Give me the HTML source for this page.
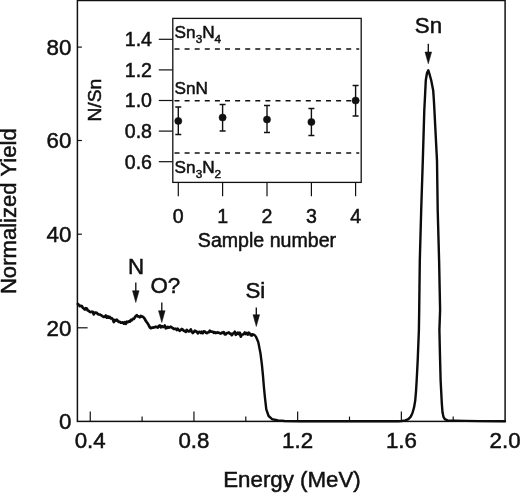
<!DOCTYPE html><html><head><meta charset="utf-8"><title>RBS spectrum</title><style>html,body{margin:0;padding:0;background:#fff}body{width:520px;height:493px;overflow:hidden}</style></head><body><svg width="520" height="493" viewBox="0 0 520 493" style="display:block">
<rect width="520" height="493" fill="#fff"/>
<g font-family="'Liberation Sans', Arial, Helvetica, sans-serif" fill="#111" stroke="#111" stroke-width="0.5">
<rect x="77.4" y="0.5" width="427.70000000000005" height="420.9" fill="none" stroke="#111" stroke-width="1.5"/>
<line x1="90.25" y1="421.4" x2="90.25" y2="411.4" stroke="#111" stroke-width="1.2"/>
<line x1="142.10" y1="421.4" x2="142.10" y2="416.59999999999997" stroke="#111" stroke-width="1.2"/>
<line x1="193.95" y1="421.4" x2="193.95" y2="411.4" stroke="#111" stroke-width="1.2"/>
<line x1="245.80" y1="421.4" x2="245.80" y2="416.59999999999997" stroke="#111" stroke-width="1.2"/>
<line x1="297.65" y1="421.4" x2="297.65" y2="411.4" stroke="#111" stroke-width="1.2"/>
<line x1="349.50" y1="421.4" x2="349.50" y2="416.59999999999997" stroke="#111" stroke-width="1.2"/>
<line x1="401.35" y1="421.4" x2="401.35" y2="411.4" stroke="#111" stroke-width="1.2"/>
<line x1="453.20" y1="421.4" x2="453.20" y2="416.59999999999997" stroke="#111" stroke-width="1.2"/>
<text x="90.2" y="448.3" font-size="22.3" text-anchor="middle">0.4</text>
<text x="193.9" y="448.3" font-size="22.3" text-anchor="middle">0.8</text>
<text x="297.6" y="448.3" font-size="22.3" text-anchor="middle">1.2</text>
<text x="401.4" y="448.3" font-size="22.3" text-anchor="middle">1.6</text>
<text x="505.1" y="448.3" font-size="22.3" text-anchor="middle">2.0</text>
<text x="71.3" y="429.1" font-size="22.3" text-anchor="end">0</text>
<line x1="77.4" y1="327.8" x2="87.60000000000001" y2="327.8" stroke="#111" stroke-width="1.2"/>
<text x="71.3" y="335.5" font-size="22.3" text-anchor="end">20</text>
<line x1="77.4" y1="234.2" x2="81.9" y2="234.2" stroke="#111" stroke-width="1.2"/>
<text x="71.3" y="241.9" font-size="22.3" text-anchor="end">40</text>
<line x1="77.4" y1="140.5" x2="81.9" y2="140.5" stroke="#111" stroke-width="1.2"/>
<text x="71.3" y="148.2" font-size="22.3" text-anchor="end">60</text>
<line x1="77.4" y1="47.1" x2="81.9" y2="47.1" stroke="#111" stroke-width="1.2"/>
<text x="71.3" y="54.8" font-size="22.3" text-anchor="end">80</text>
<text x="292" y="487.3" font-size="22.3" text-anchor="middle">Energy (MeV)</text>
<text transform="translate(16.3,211.2) rotate(-90)" font-size="22.1" text-anchor="middle">Normalized Yield</text>
<path d="M77.8,303.9 L78.8,305.0 L79.8,306.2 L80.8,305.8 L81.8,306.0 L82.8,307.7 L83.8,308.6 L84.8,309.5 L85.8,308.2 L86.8,308.6 L87.8,310.5 L88.8,310.8 L89.8,312.0 L90.8,312.1 L91.8,311.7 L92.8,311.9 L93.8,314.4 L94.8,312.7 L95.8,312.7 L96.8,312.8 L97.8,314.1 L98.8,314.5 L99.8,314.5 L100.8,315.1 L101.8,315.7 L102.8,316.4 L103.8,317.0 L104.8,316.7 L105.8,315.5 L106.8,317.7 L107.8,316.4 L108.8,317.6 L109.8,317.0 L110.8,318.4 L111.8,318.2 L112.8,319.3 L113.8,322.0 L114.8,319.9 L115.8,320.9 L116.8,319.7 L117.8,320.9 L118.8,322.0 L119.8,321.8 L120.8,322.6 L121.8,322.7 L122.8,322.3 L123.8,323.6 L124.8,322.2 L125.8,323.9 L126.8,321.7 L127.8,322.2 L128.8,321.4 L129.8,321.7 L130.8,320.0 L131.8,320.4 L132.8,318.8 L133.8,318.9 L134.8,317.4 L135.8,316.0 L136.8,315.2 L137.8,316.5 L138.8,316.4 L139.8,317.4 L140.8,315.9 L141.8,316.6 L142.8,316.6 L143.8,317.6 L144.8,319.0 L145.8,320.9 L146.8,322.3 L147.8,323.6 L148.8,325.4 L149.8,327.4 L150.8,328.2 L151.8,327.7 L152.8,327.7 L153.8,327.4 L154.8,327.2 L155.8,326.7 L156.8,327.0 L157.8,327.6 L158.8,325.9 L159.8,325.5 L160.8,327.4 L161.8,326.2 L162.8,326.9 L163.8,326.9 L164.8,325.5 L165.8,328.3 L166.8,328.0 L167.8,326.9 L168.8,327.6 L169.8,327.3 L170.8,326.7 L171.8,327.5 L172.8,328.1 L173.8,328.9 L174.8,328.9 L175.8,328.7 L176.8,330.0 L177.8,328.7 L178.8,330.2 L179.8,330.8 L180.8,330.0 L181.8,329.0 L182.8,329.7 L183.8,330.7 L184.8,331.0 L185.8,331.9 L186.8,330.0 L187.8,330.9 L188.8,331.5 L189.8,330.9 L190.8,329.4 L191.8,331.8 L192.8,333.0 L193.8,332.1 L194.8,330.7 L195.8,331.2 L196.8,331.7 L197.8,333.4 L198.8,332.1 L199.8,331.8 L200.8,332.9 L201.8,331.7 L202.8,333.2 L203.8,331.4 L204.8,331.6 L205.8,332.5 L206.8,333.1 L207.8,332.5 L208.8,332.3 L209.8,330.7 L210.8,331.6 L211.8,331.7 L212.8,331.8 L213.8,332.8 L214.8,332.2 L215.8,333.1 L216.8,332.6 L217.8,332.4 L218.8,332.8 L219.8,333.2 L220.8,333.6 L221.8,332.6 L222.8,332.9 L223.8,332.1 L224.8,334.4 L225.8,334.3 L226.8,333.1 L227.8,333.0 L228.8,332.5 L229.8,333.6 L230.8,333.6 L231.8,335.2 L232.8,333.8 L233.8,333.0 L234.8,331.8 L235.8,334.8 L236.8,333.9 L237.8,332.6 L238.8,334.0 L239.8,332.7 L240.8,336.6 L241.8,334.8 L242.8,334.5 L243.8,334.0 L244.8,332.5 L245.8,334.0 L246.8,333.0 L247.8,334.6 L248.8,332.6 L249.8,333.6 L250.8,335.2 L251.8,335.5 L252.3,334.3" fill="none" stroke="#0c0c0c" stroke-width="2.7" stroke-linejoin="round" stroke-linecap="round"/>
<path d="M252.3,334.3 L254.5,335.0 L256.0,336.7 L258.3,342.3 L260.5,353.5 L261.9,364.6 L263.0,375.8 L263.9,387.0 L265.0,398.1 L266.3,409.3 L268.6,416.0 L272.4,419.3 L278.0,420.4 L284.6,421.0 L300.0,421.2 L380.0,421.2 L398.0,421.2 L401.9,421.0 L405.4,420.4 L408.3,419.2 L410.6,416.9 L412.3,413.5 L414.0,407.7 L415.2,400.8 L416.0,391.5 L416.7,380.0 L417.7,360.4 L418.9,330.0 L419.2,310.0 L419.8,260.7 L421.2,210.0 L422.8,160.7 L424.3,110.0 L424.8,100.6 L425.3,90.4 L425.8,80.3 L427.0,73.0 L428.3,70.3 L429.8,75.2 L431.2,80.3 L433.2,90.4 L433.9,100.6 L434.4,110.0 L437.0,160.7 L437.7,210.0 L439.1,260.7 L440.1,310.0 L439.4,330.0 L440.1,360.4 L440.6,380.0 L441.2,391.5 L441.8,403.1 L442.5,412.3 L443.5,416.9 L444.8,419.2 L447.5,420.4 L455.0,420.7 L465.0,420.9 L480.0,421.1 L505.0,421.3" fill="none" stroke="#0c0c0c" stroke-width="2.4" stroke-linejoin="round" stroke-linecap="round"/>
<text x="136" y="274" font-size="22.3" text-anchor="middle">N</text>
<line x1="135.8" y1="282.5" x2="135.8" y2="292.7" stroke="#111" stroke-width="1.35"/><polygon points="132.5,290.7 139.10000000000002,290.7 135.8,302.5" fill="#111"/>
<text x="165.3" y="293" font-size="22.3" text-anchor="middle">O?</text>
<line x1="161.8" y1="302.5" x2="161.8" y2="312.7" stroke="#111" stroke-width="1.35"/><polygon points="158.5,310.7 165.10000000000002,310.7 161.8,322.5" fill="#111"/>
<text x="255.4" y="297.6" font-size="22.3" text-anchor="middle">Si</text>
<line x1="256.3" y1="307.4" x2="256.3" y2="316.7" stroke="#111" stroke-width="1.35"/><polygon points="253.0,314.7 259.6,314.7 256.3,326.5" fill="#111"/>
<text x="428.5" y="32.5" font-size="22.3" text-anchor="middle">Sn</text>
<line x1="428.3" y1="43.8" x2="428.3" y2="54.0" stroke="#111" stroke-width="1.35"/><polygon points="425.0,52.0 431.6,52.0 428.3,63.8" fill="#111"/>
<rect x="172.8" y="18.4" width="188.39999999999998" height="164.0" fill="#fff" stroke="#111" stroke-width="1.3"/>
<line x1="158.8" y1="161.7" x2="172.8" y2="161.7" stroke="#111" stroke-width="1.2"/>
<text x="152" y="168.5" font-size="19.6" text-anchor="end">0.6</text>
<line x1="158.8" y1="131.1" x2="172.8" y2="131.1" stroke="#111" stroke-width="1.2"/>
<text x="152" y="137.9" font-size="19.6" text-anchor="end">0.8</text>
<line x1="158.8" y1="100.5" x2="172.8" y2="100.5" stroke="#111" stroke-width="1.2"/>
<text x="152" y="107.3" font-size="19.6" text-anchor="end">1.0</text>
<line x1="158.8" y1="69.9" x2="172.8" y2="69.9" stroke="#111" stroke-width="1.2"/>
<text x="152" y="76.7" font-size="19.6" text-anchor="end">1.2</text>
<line x1="158.8" y1="39.3" x2="172.8" y2="39.3" stroke="#111" stroke-width="1.2"/>
<text x="152" y="46.1" font-size="19.6" text-anchor="end">1.4</text>
<line x1="174.5" y1="49.0" x2="359.2" y2="49.0" stroke="#111" stroke-width="1.5" stroke-dasharray="5 5.1"/>
<line x1="174.5" y1="100.8" x2="359.2" y2="100.8" stroke="#111" stroke-width="1.5" stroke-dasharray="5 5.1"/>
<line x1="174.5" y1="152.9" x2="359.2" y2="152.9" stroke="#111" stroke-width="1.5" stroke-dasharray="5 5.1"/>
<line x1="178.3" y1="182.4" x2="178.3" y2="196.2" stroke="#111" stroke-width="1.2"/>
<text x="178.3" y="223" font-size="19.6" text-anchor="middle">0</text>
<line x1="222.6" y1="182.4" x2="222.6" y2="196.2" stroke="#111" stroke-width="1.2"/>
<text x="222.6" y="223" font-size="19.6" text-anchor="middle">1</text>
<line x1="267.0" y1="182.4" x2="267.0" y2="196.2" stroke="#111" stroke-width="1.2"/>
<text x="267.0" y="223" font-size="19.6" text-anchor="middle">2</text>
<line x1="311.4" y1="182.4" x2="311.4" y2="196.2" stroke="#111" stroke-width="1.2"/>
<text x="311.4" y="223" font-size="19.6" text-anchor="middle">3</text>
<line x1="355.6" y1="182.4" x2="355.6" y2="196.2" stroke="#111" stroke-width="1.2"/>
<text x="355.6" y="223" font-size="19.6" text-anchor="middle">4</text>
<path d="M178.3,107 V134.5 M175.3,107 H181.3 M175.3,134.5 H181.3" stroke="#111" stroke-width="1.4" fill="none"/>
<circle cx="178.3" cy="121" r="3.6" fill="#111"/>
<path d="M222.6,104.5 V131 M219.6,104.5 H225.6 M219.6,131 H225.6" stroke="#111" stroke-width="1.4" fill="none"/>
<circle cx="222.6" cy="117.5" r="3.6" fill="#111"/>
<path d="M267.0,105.5 V132.5 M264.0,105.5 H270.0 M264.0,132.5 H270.0" stroke="#111" stroke-width="1.4" fill="none"/>
<circle cx="267.0" cy="119.5" r="3.6" fill="#111"/>
<path d="M311.4,108.5 V135.5 M308.4,108.5 H314.4 M308.4,135.5 H314.4" stroke="#111" stroke-width="1.4" fill="none"/>
<circle cx="311.4" cy="122" r="3.6" fill="#111"/>
<path d="M355.6,85.5 V116 M352.6,85.5 H358.6 M352.6,116 H358.6" stroke="#111" stroke-width="1.4" fill="none"/>
<circle cx="355.6" cy="100.5" r="3.6" fill="#111"/>
<text x="267" y="247" font-size="19.6" text-anchor="middle">Sample number</text>
<text transform="translate(100.5,100.2) rotate(-90)" font-size="19.2" text-anchor="middle">N/Sn</text>
<text x="174.6" y="37.6" font-size="17.2">Sn<tspan font-size="11.8" dy="5">3</tspan><tspan dy="-5">N</tspan><tspan font-size="11.8" dy="5">4</tspan></text>
<text x="174.6" y="93.7" font-size="17.2">SnN</text>
<text x="174.6" y="172.6" font-size="17.2">Sn<tspan font-size="11.8" dy="5">3</tspan><tspan dy="-5">N</tspan><tspan font-size="11.8" dy="5">2</tspan></text>
</g></svg></body></html>
